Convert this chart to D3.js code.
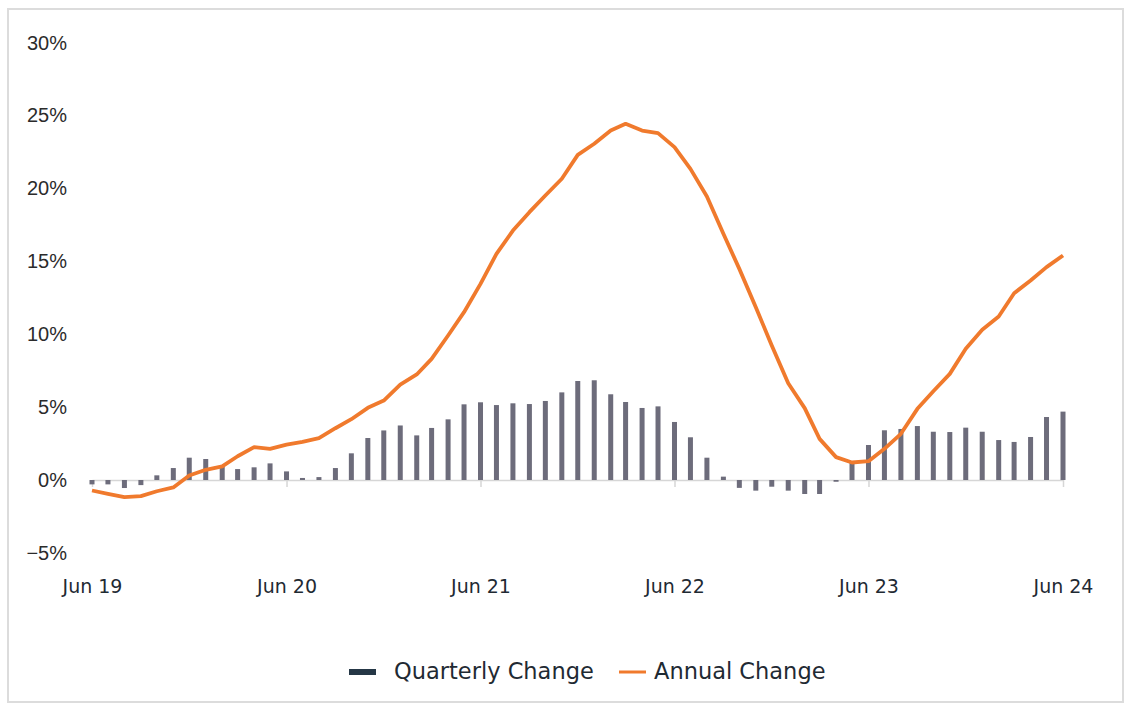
<!DOCTYPE html>
<html lang="en">
<head>
    <meta charset="UTF-8">
    <title>Quarterly and Annual Change</title>
    <script src="https://d3js.org/d3.v7.min.js"></script>
    <style>
        body {
            margin: 0;
            background: #fff;
            font-family: "Liberation Sans", Arial, sans-serif;
        }
        .ylab {
            font-size: 20px;
            fill: #2b2b2b;
        }
        .xlab {
            font-size: 19px;
            fill: #1f2a33;
            font-family: "DejaVu Sans", sans-serif;
        }
        .legend-text {
            font-size: 22.5px;
            fill: #1f2a33;
            font-family: "DejaVu Sans", sans-serif;
        }
    </style>
</head>
<body>
    <svg width="1133" height="713"></svg>
    <script>
        // monthly points, Jun 2019 .. Jun 2024
        const startMonth = new Date(2019, 5, 1);
        const quarterly = [
            -0.3, -0.3, -0.55, -0.35, 0.32, 0.82, 1.53, 1.44, 0.91, 0.75,
            0.87, 1.14, 0.59, 0.14, 0.2, 0.82, 1.83, 2.88, 3.4, 3.74,
            3.06, 3.57, 4.16, 5.19, 5.33, 5.14, 5.26, 5.21, 5.42, 6.01,
            6.79, 6.84, 5.88, 5.35, 4.94, 5.05, 3.98, 2.93, 1.53, 0.23,
            -0.54, -0.73, -0.46, -0.73, -0.96, -0.96, -0.12, 1.21, 2.4, 3.41,
            3.5, 3.7, 3.31, 3.29, 3.59, 3.31, 2.74, 2.61, 2.95, 4.32,
            4.69
        ];
        const annual = [
            -0.72, -0.95, -1.18, -1.11, -0.77, -0.51, 0.31, 0.7, 0.93, 1.63,
            2.25, 2.14, 2.43, 2.62, 2.87, 3.55, 4.17, 4.95, 5.45, 6.54,
            7.24, 8.31, 9.91, 11.51, 13.45, 15.51, 17.11, 18.37, 19.51, 20.66,
            22.3, 23.06, 23.97, 24.43, 23.97, 23.79, 22.83, 21.34, 19.44, 16.89,
            14.48, 11.85, 9.22, 6.64, 4.93, 2.82, 1.57, 1.2, 1.29, 2.14,
            3.17, 4.88, 6.09, 7.28, 9.0, 10.3, 11.21, 12.81, 13.68, 14.6,
            15.4
        ];
        const yTicks = [-5, 0, 5, 10, 15, 20, 25, 30];
        const xTickLabels = ["Jun 19", "Jun 20", "Jun 21", "Jun 22", "Jun 23", "Jun 24"];

        const months = quarterly.map((_, i) => d3.timeMonth.offset(startMonth, i));
        const data = months.map((m, i) => ({ date: m, q: quarterly[i], a: annual[i] }));

        const svg = d3.select("svg");

        // outer frame
        svg.append("rect")
            .attr("x", 8).attr("y", 9)
            .attr("width", 1115).attr("height", 693)
            .attr("fill", "none")
            .attr("stroke", "#dcdcdc")
            .attr("stroke-width", 2);

        const x = d3.scaleTime()
            .domain([months[0], months[months.length - 1]])
            .range([92, 1063]);

        const y = d3.scaleLinear()
            .domain([-5, 30])
            .range([552.9, 42.6]);

        // y labels (no axis line)
        const yAxis = svg.append("g")
            .attr("transform", "translate(67,0)")
            .call(d3.axisLeft(y).tickValues(yTicks).tickSize(0).tickPadding(0)
                .tickFormat(d => d + "%"));
        yAxis.select(".domain").remove();
        yAxis.selectAll("text")
            .attr("class", "ylab")
            .attr("font-family", null)
            .attr("font-size", null)
            .attr("fill", null)
            .text(d => (d < 0 ? "\u2212" + Math.abs(d) : d) + "%");

        // x axis at zero
        const xTickDates = xTickLabels.map((_, i) => d3.timeYear.offset(startMonth, i));
        const xAxis = svg.append("g")
            .attr("transform", `translate(0,${y(0)})`)
            .call(d3.axisBottom(x).tickValues(xTickDates).tickSize(7).tickSizeOuter(0)
                .tickFormat((d, i) => xTickLabels[i]));
        xAxis.select(".domain").attr("stroke", "#d6d6d6").attr("stroke-width", 1.5);
        xAxis.selectAll(".tick line").attr("stroke", "#d6d6d6").attr("stroke-width", 1.5);
        xAxis.selectAll("text")
            .attr("class", "xlab")
            .attr("font-family", null)
            .attr("font-size", null)
            .attr("fill", null)
            .attr("y", 113)
            .attr("dy", 0);

        // quarterly bars
        const barW = 5;
        svg.append("g")
            .selectAll("rect")
            .data(data)
            .enter()
            .append("rect")
            .attr("x", d => x(d.date) - barW / 2)
            .attr("y", d => y(Math.max(0, d.q)))
            .attr("width", barW)
            .attr("height", d => Math.abs(y(d.q) - y(0)))
            .attr("fill", "#6d6c7b");

        // annual line
        svg.append("path")
            .datum(data)
            .attr("fill", "none")
            .attr("stroke", "#f07a2d")
            .attr("stroke-width", 3.8)
            .attr("stroke-linejoin", "round")
            .attr("d", d3.line().x(d => x(d.date)).y(d => y(d.a)));

        // legend
        const lg = svg.append("g");
        lg.append("rect")
            .attr("x", 349).attr("y", 669)
            .attr("width", 27).attr("height", 6)
            .attr("fill", "#253746");
        lg.append("text")
            .attr("class", "legend-text")
            .attr("x", 394).attr("y", 679)
            .text("Quarterly Change");
        lg.append("line")
            .attr("x1", 619).attr("x2", 646)
            .attr("y1", 672).attr("y2", 672)
            .attr("stroke", "#f07a2d")
            .attr("stroke-width", 3);
        lg.append("text")
            .attr("class", "legend-text")
            .attr("x", 654).attr("y", 679)
            .text("Annual Change");
    </script>
</body>
</html>
